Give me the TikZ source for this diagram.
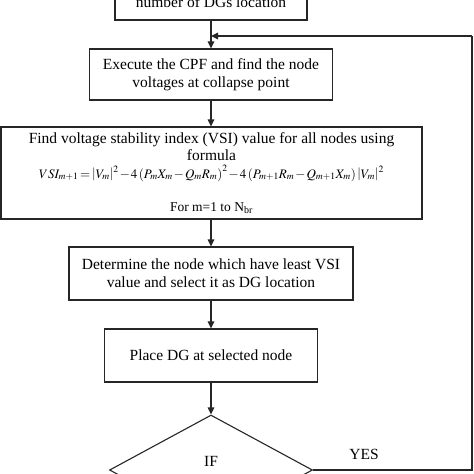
\documentclass[tikz,border=0pt]{standalone}
\usepackage{mathptmx}
\usepackage{fontspec}
\setmainfont{Liberation Serif}
\usetikzlibrary{arrows.meta,shapes.geometric}
\tikzset{
  box/.style={draw=black!85, line width=1.1pt, align=center, inner sep=0pt,
    font=\fontsize{15.5}{18}\selectfont},
  arr/.style={line width=1.1pt, draw=black!85, -{Triangle[length=7pt,width=6.5pt]}},
  ln/.style={line width=1.1pt, draw=black!85},
  lbl/.style={font=\fontsize{15.5}{18}\selectfont, inner sep=0pt}
}
\begin{document}
\begin{tikzpicture}[x=1pt,y=-1pt]
\useasboundingbox (0,0) rectangle (474,474);
\clip (0,0) rectangle (474,474);
\fill[white] (0,0) rectangle (474,474);
% boxes
\node[box, minimum width=192pt, minimum height=60pt] (b1) at (211,-10) {};
\node[lbl, anchor=base] (b1t) at (211,7) {number of DGs location};
\node[box, minimum width=243pt, minimum height=51pt] (b2) at (211,74.5)
  {Execute the CPF and find the node\\voltages at collapse point};
\node[box, minimum width=421pt, minimum height=92pt, font=\fontsize{15.5}{17.5}\selectfont] (b3) at (211.5,173)
  {Find voltage stability index (VSI) value for all nodes using\\formula\\
   {\fontsize{13}{16}\selectfont\medmuskip=1.5mu\thickmuskip=2.5mu $VSI_{m+1}=\left|V_m\right|^2-4\left(P_mX_m-Q_mR_m\right)^2-4\left(P_{m+1}R_m-Q_{m+1}X_m\right)\left|V_m\right|^2$}\\[16pt]
   {\fontsize{13.5}{15}\selectfont For m=1 to N\textsubscript{br}}};
\node[box, minimum width=284pt, minimum height=53pt] (b4) at (211,273.5)
  {Determine the node which have least VSI\\value and select it as DG location};
\node[box, minimum width=213pt, minimum height=53pt] (b5) at (211,355.5)
  {Place DG at selected node};
\node[box, diamond, minimum width=203pt, minimum height=110pt, aspect=1.85] (d) at (211,470) {};
\node[lbl] (ift) at (211,461) {IF};
\node[lbl] (yes) at (364,454) {YES};
% connectors
\coordinate (rb) at (472,470);
\coordinate (rt) at (472,36);
\coordinate (j) at (211,36);
\draw[arr] (b1.south) -- (b2.north);
\draw[arr] (b2.south) -- (b3.north -| b2.south);
\draw[arr] (b3.south -| b2.south) -- (b4.north);
\draw[arr] (b4.south) -- (b5.north);
\draw[arr] (b5.south) -- (d.north);
\draw[ln] (d.east) -- (rb) -- (rt);
\draw[arr] (rt) -- (j);
\end{tikzpicture}
\end{document}
